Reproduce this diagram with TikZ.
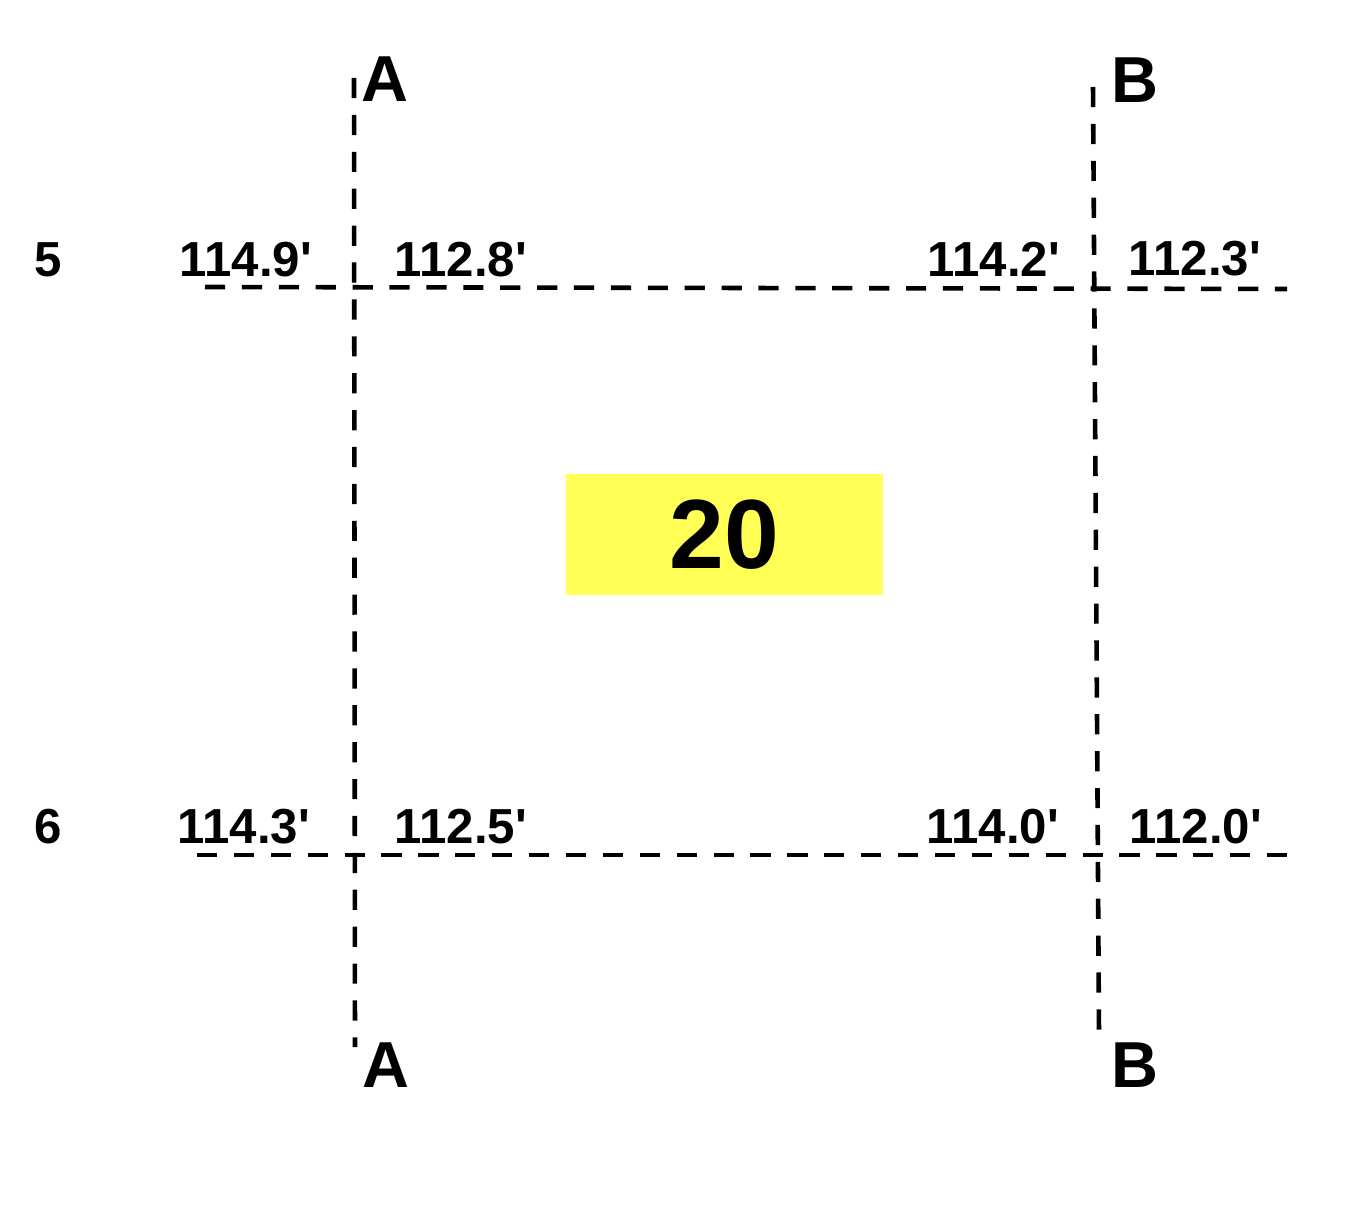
\documentclass[tikz,border=0pt]{standalone}
\usepackage{fontspec}
\newfontfamily\gridfont{Liberation Sans}
\definecolor{lotyellow}{HTML}{FFFF55}
\begin{document}
\begin{tikzpicture}[x=0.02cm,y=-0.02cm,
  gridline/.style={line width=2.6pt,dash pattern=on 11.5pt off 9.5pt},
  elev/.style={inner sep=0pt,font=\gridfont\bfseries\fontsize{28}{30}\selectfont},
  section/.style={inner sep=0pt,font=\gridfont\bfseries\fontsize{37}{40}\selectfont},
  lot/.style={fill=lotyellow,inner sep=0pt,minimum width=6.36cm,minimum height=2.42cm,
    font=\gridfont\bfseries\fontsize{56}{60}\selectfont}]
  \useasboundingbox (0,0) rectangle (1350,1206);
  \coordinate (A top) at (354,78);
  \coordinate (A bot) at (355,1047);
  \coordinate (B top) at (1093,87);
  \coordinate (B bot) at (1099,1032);
  \coordinate (r5 left) at (205,287);
  \coordinate (r5 right) at (1287,289);
  \coordinate (r6 left) at (197,855);
  \coordinate (r6 right) at (1287,855);
  \draw [gridline] (A top) -- (A bot);
  \draw [gridline] (B top) -- (B bot);
  \draw [gridline] (r5 left) -- (r5 right);
  \draw [gridline] (r6 left) -- (r6 right);
  \node [section] (A1) at (385,79) {A};
  \node [section] (A2) at (386,1065) {A};
  \node [section] (B1) at (1135,80) {B};
  \node [section] (B2) at (1135,1065) {B};
  \node [elev] (row5) at (48,260) {5};
  \node [elev] (row6) at (48,827) {6};
  \node [elev] (e5a) at (246,260) {114.9'};
  \node [elev] (e5b) at (461,260) {112.8'};
  \node [elev] (e5c) at (994,259) {114.2'};
  \node [elev] (e5d) at (1195,259) {112.3'};
  \node [elev] (e6a) at (244,827) {114.3'};
  \node [elev] (e6b) at (461,827) {112.5'};
  \node [elev] (e6c) at (993,827) {114.0'};
  \node [elev] (e6d) at (1196,827) {112.0'};
  \node [lot] (lot20) at (724.5,534.5) {20};
\end{tikzpicture}
\end{document}
